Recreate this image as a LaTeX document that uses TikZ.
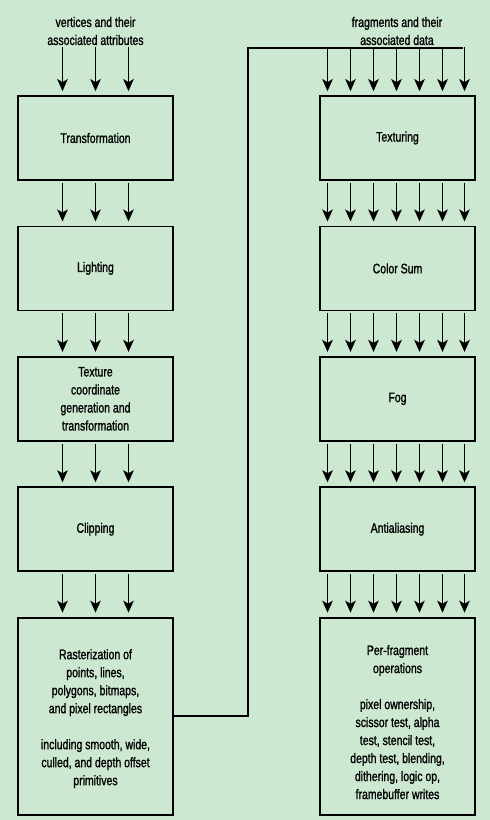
\documentclass[tikz,border=0pt]{standalone}
\usepackage{fontspec}
\setmainfont{Liberation Sans}[FakeStretch=0.76,FakeBold=1.2]
\usetikzlibrary{positioning,arrows.meta}
\definecolor{pagebg}{RGB}{204,232,208}
\tikzset{
  stage/.style={draw,line width=1.8pt,minimum width=155pt,minimum height=84pt,align=center,inner sep=2pt},
  tallstage/.style={stage,minimum height=197pt},
  caption/.style={align=center,inner sep=0pt},
  flow/.style={-{Stealth[length=12pt,width=10.5pt,inset=3pt]},line width=1.8pt,shorten >=4pt,shorten <=2pt},
  wire/.style={line width=1.8pt},
}

\begin{document}
\begin{tikzpicture}[x=1pt,y=-1pt,font=\fontsize{13.8pt}{18pt}\selectfont]
  \fill[pagebg] (0,0) rectangle (490,820);
  \useasboundingbox (0,0) rectangle (490,820);
  \node[stage] (trans) at (95.5,138) {Transformation};
  \node[stage,below=44.6pt of trans] (light) {Lighting};
  \node[stage,below=44.6pt of light] (texgen) {Texture\\coordinate\\generation and\\transformation};
  \node[stage,below=44.6pt of texgen] (clip) {Clipping};
  \node[tallstage,below=44.6pt of clip] (raster) {\mbox{}\\[-3pt]Rasterization of\\points, lines,\\polygons, bitmaps,\\and pixel rectangles\\[18pt]including smooth, wide,\\culled, and depth offset\\primitives};
  \node[stage,right=145.2pt of trans] (texturing) {Texturing};
  \node[stage,below=44.6pt of texturing] (colorsum) {Color Sum};
  \node[stage,below=44.6pt of colorsum] (fog) {Fog};
  \node[stage,below=44.6pt of fog] (antialias) {Antialiasing};
  \node[tallstage,below=44.6pt of antialias] (perfrag) {\mbox{}\\[4pt]Per-fragment\\operations\\[18pt]pixel ownership,\\scissor test, alpha\\test, stencil test,\\depth test, blending,\\dithering, logic op,\\framebuffer writes};
  \node[caption] (vin) at (95.5,31) {vertices and their\\associated attributes};
  \node[caption] (fin) at (397,31) {fragments and their\\associated data};
  \coordinate (bus) at (248,48);
  \coordinate (busend) at (463,48);
  \foreach \dx in {-33,0,33}
    \draw[flow] ([xshift=\dx pt]vin.south) -- ([xshift=\dx pt]trans.north);
  \foreach \a/\b in {trans/light,light/texgen,texgen/clip,clip/raster}
    \foreach \dx in {-33,0,33}
      \draw[flow] ([xshift=\dx pt]\a.south) -- ([xshift=\dx pt]\b.north);
  \draw[wire] (raster.east) -| (bus) -- (busend);
  \foreach \dx in {-70,-47,-24,-1,22,45,67}
    \draw[flow,shorten <=0pt] ([xshift=\dx pt,yshift=48pt]texturing.north) -- ([xshift=\dx pt]texturing.north);
  \foreach \a/\b in {texturing/colorsum,colorsum/fog,fog/antialias,antialias/perfrag}
    \foreach \dx in {-70,-47,-24,-1,22,45,67}
      \draw[flow] ([xshift=\dx pt]\a.south) -- ([xshift=\dx pt]\b.north);
\end{tikzpicture}
\end{document}
